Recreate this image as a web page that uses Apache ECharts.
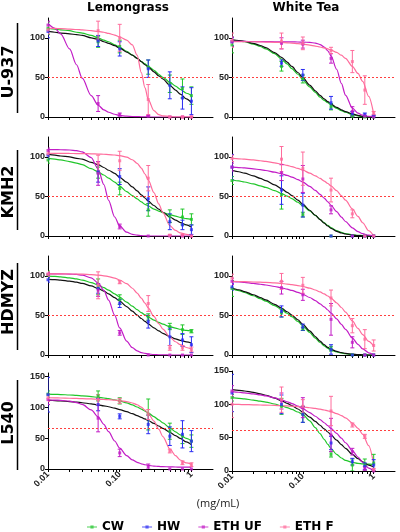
<!DOCTYPE html>
<html>
<head>
<meta charset="utf-8">
<script src="https://cdn.jsdelivr.net/npm/echarts@6/dist/echarts.min.js"></script>
<style>
html, body { margin: 0; padding: 0; background: #fff; }
#chart { width: 400px; height: 532px; }
</style>
</head>
<body>
<div id="chart"></div>
<script>
// concentrations tested (mg/mL) and x positions used to trace the fitted curves
const conc = [0.01, 0.05, 0.1, 0.25, 0.5, 0.75, 1];
const fitX = [0.01, 0.0125, 0.015, 0.02, 0.025, 0.03, 0.04, 0.05, 0.06, 0.07, 0.085, 0.1, 0.125,
	0.15, 0.175, 0.2, 0.225, 0.25, 0.3, 0.35, 0.4, 0.5, 0.6, 0.7, 0.85, 1];
const xTicks = [0.01, 0.02, 0.03, 0.04, 0.05, 0.06, 0.07, 0.08, 0.09, 0.1,
	0.2, 0.3, 0.4, 0.5, 0.6, 0.7, 0.8, 0.9, 1];
const xLabels = [0.01, 0.1, 1];

const seriesNames = ['CW', 'HW', 'ETH UF', 'ETH F'];
const cellLines = ['U-937', 'KMH2', 'HDMYZ', 'L540'];
const extracts = ['Lemongrass', 'White Tea'];

// rows: CW, HW, ETH UF, ETH F
const u937LgMean = [[112, 95, 89, 63, 42, 36, 27], [108, 96, 86, 61, 40, 24, 20], [116, 17, 3, 1, 0, 0, 0], [110, 109, 100, 22, 0, 0, 0]];
const u937LgErr = [[8, 7, 8, 9, 11, 12, 11], [8, 7, 9, 11, 17, 14, 17], [5, 10, 2, 1, 0, 0, 0], [5, 12, 17, 19, 1, 1, 1]];
const u937LgFit = [
	[112, 111, 110, 109, 107, 106, 103, 100, 97, 95, 91, 88, 83, 78, 74, 70, 67, 64, 59, 54, 50, 44, 39, 35, 30, 27],
	[108, 107, 106, 105, 104, 103, 100, 98, 95, 93, 90, 87, 82, 78, 74, 70, 66, 63, 57, 52, 48, 40, 34, 29, 23, 18],
	[118, 112, 105, 86, 66, 49, 27, 15, 9, 6, 3.5, 2, 1, 0.6, 0.4, 0.3, 0.2, 0, 0, 0, 0, 0, 0, 0, 0, 0],
	[112, 112, 111.5, 111, 110.5, 110, 109, 108, 107, 105.5, 103.5, 101, 97, 91, 78, 56, 37, 22, 8, 3, 1.5, 0.5, 0, 0, 0, 0]];

const u937WtMean = [[91, 64, 48, 13, 1, 0, 0], [95, 68, 53, 18, 4, 3, 1], [95, 93, 92, 74, 7, 1, 0], [97, 96, 93, 84, 70, 34, 5]];
const u937WtErr = [[10, 6, 5, 4, 1, 0, 0], [5, 4, 7, 8, 3, 2, 1], [6, 7, 5, 6, 6, 1, 0], [9, 10, 8, 4, 14, 18, 2]];
const u937WtFit = [
	[97, 96, 95, 92, 89, 86, 80, 73, 67, 61, 54, 47, 38, 31, 25, 21, 18, 15, 11, 8, 6, 3, 1.3, 0.3, 0, 0],
	[97.5, 96.6, 95.5, 93, 90.3, 87.5, 81.4, 75.3, 69.3, 63.8, 56.2, 49.6, 40.3, 33.1, 27.4, 22.9, 19.4, 16.4, 12.2, 9.1, 6.9, 3.9, 2, 0.9, 0, 0],
	[95.5, 95.5, 95.4, 95.3, 95.2, 95.1, 95, 95, 94.9, 94.8, 94.7, 94.5, 94.2, 93.3, 91.5, 88.3, 83.6, 77.1, 60.3, 42.4, 27.7, 11.3, 4.9, 2.3, 0.9, 0.4],
	[95, 95, 95, 95, 94.8, 94.6, 94.3, 94, 93.6, 93.2, 92.6, 92, 90.8, 89.6, 88.4, 87.2, 86, 84.6, 81.5, 78, 74, 64, 55, 45, 26, 4]];

const kmh2LgMean = [[96, 80, 60, 33, 25, 24, 21], [102, 81, 75, 47, 18, 14, 8], [108, 79, 12, 0, 0, 0, 0], [104, 92, 95, 73, 1, 1, 0]];
const kmh2LgErr = [[4, 7, 8, 8, 8, 10, 7], [5, 13, 10, 15, 10, 6, 6], [3, 15, 3, 0, 0, 0, 0], [3, 10, 12, 16, 1, 1, 0]];
const kmh2LgFit = [
	[98, 97, 96, 94, 92, 90, 85, 81, 77, 73, 68, 63, 56, 51, 47, 43, 40, 38, 34, 31.5, 29.5, 27, 25, 23.5, 22, 21],
	[103, 102, 101, 100, 98, 97, 93, 90, 86.5, 83, 79, 74, 68, 62, 57, 52, 48, 44, 38.5, 34, 30, 24, 20, 17, 14, 11],
	[109, 109, 108.9, 108.6, 107.8, 106.2, 99, 84.6, 65, 45, 24, 12.7, 4.8, 2.1, 1, 0.4, 0.2, 0, 0, 0, 0, 0, 0, 0, 0, 0],
	[104.5, 104.4, 104.3, 104.2, 104.1, 104, 103.8, 103.5, 103.2, 102.8, 102.3, 101.5, 99.6, 96.3, 91.8, 85.8, 78.3, 70.9, 54.8, 40.6, 29.6, 13, 7, 4, 2, 1]];

const kmh2WtMean = [[70, 52, 27, 0, 0, 0, 0], [87, 58, 39, 0, 0, 0, 0], [87, 80, 72, 33, 0, 0, 0], [98, 97, 85, 58, 28, 0, 0]];
const kmh2WtErr = [[5, 18, 3, 0, 0, 0, 0], [16, 18, 15, 0, 0, 0, 0], [5, 10, 17, 5, 0, 0, 0], [4, 16, 21, 15, 5, 0, 0]];
const kmh2WtFit = [
	[71, 69.5, 68.2, 65.7, 63.4, 61.3, 57.3, 53.6, 50.3, 47.2, 42.6, 38.3, 31.8, 26, 21, 16.8, 13.3, 10.6, 6.8, 4.6, 3, 1.6, 0.9, 0.5, 0.2, 0],
	[83, 81.1, 79.3, 75.9, 72.8, 70, 64.6, 59.7, 55.2, 51, 45.3, 40.1, 32.5, 26.2, 20.8, 16.3, 12.6, 9.7, 5.9, 3.8, 2.5, 1.2, 0.6, 0.3, 0.1, 0],
	[87, 86.4, 85.9, 84.8, 83.7, 82.7, 80.6, 78.6, 76.5, 74.4, 71.2, 68, 62.7, 57.6, 52.6, 47.8, 43.2, 38.8, 30.7, 23.9, 18.3, 10.3, 5.6, 2.9, 1, 0.2],
	[98, 97.5, 97, 96, 95, 94.1, 92.4, 90.7, 89.1, 87.6, 85.3, 83.1, 79.5, 76, 72.7, 69.4, 66.3, 63.2, 57.3, 51, 45.2, 34.2, 24.7, 16.7, 6.6, 0]];

const hdmyzLgMean = [[101, 86, 70, 48, 36, 32, 30], [95, 84, 65, 42, 23, 19, 13], [102, 82, 28, 0, 0, 0, 0], [102, 88, 92, 65, 9, 9, 7]];
const hdmyzLgErr = [[5, 10, 6, 4, 4, 6, 2], [3, 6, 5, 8, 11, 8, 10], [2, 8, 3, 0, 0, 0, 0], [3, 17, 2, 10, 3, 3, 3]];
const hdmyzLgFit = [
	[99.7, 99.2, 98.7, 97.4, 96.1, 94.6, 91.5, 88.3, 85, 81.8, 77.2, 73, 66.7, 61.6, 57.2, 53.6, 50.6, 48, 44, 41.1, 38.9, 35.8, 33.9, 32.5, 31.1, 30.3],
	[95.6, 95.1, 94.6, 93.3, 91.9, 90.4, 87.2, 84, 80.6, 77.3, 72.5, 68, 61.2, 55.4, 50.4, 46.1, 42.4, 39.2, 34.2, 30.4, 27.4, 23.2, 20.4, 18.5, 16.5, 15.2],
	[102.5, 102.4, 102.4, 102.2, 101.7, 100.8, 97.5, 91.1, 81.5, 69.3, 50.3, 34.2, 17.4, 9.2, 5.2, 3.1, 2, 1.3, 0.6, 0.3, 0.2, 0, 0, 0, 0, 0],
	[102.5, 102.5, 102.4, 102.3, 102.2, 102, 101.5, 100.9, 100, 99, 97.1, 94.7, 90, 84.3, 78.2, 71.8, 65.5, 59.5, 48.7, 39.7, 32.7, 22.8, 16.7, 13, 9.5, 7.5]];

const hdmyzWtMean = [[84, 53, 33, 8, 0, 0, 0], [86, 55, 35, 7, 0, 0, 0], [93, 85, 76, 45, 16, 0, 0], [97, 93, 88, 72, 37, 20, 12]];
const hdmyzWtErr = [[10, 5, 2, 3, 0, 0, 0], [4, 7, 4, 6, 0, 0, 0], [4, 8, 7, 20, 7, 0, 0], [5, 10, 10, 10, 9, 12, 7]];
const hdmyzWtFit = [
	[84, 81.3, 78.9, 74.8, 71.2, 68, 62.3, 57.3, 52.7, 48.4, 42.4, 36.7, 28.4, 21.4, 15.8, 11.6, 8.4, 6.2, 3.8, 2.5, 1.6, 0.8, 0.4, 0.2, 0, 0],
	[85, 82.4, 80.1, 76.1, 72.6, 69.5, 64, 59.1, 54.6, 50.4, 44.5, 38.8, 30.5, 23.3, 17.5, 13, 9.6, 7.2, 4.5, 3, 2, 1, 0.5, 0.2, 0, 0],
	[93, 92.3, 91.7, 90.4, 89.3, 88.4, 86.5, 84.8, 83.1, 81.5, 79.1, 76.7, 72.6, 68.6, 64.6, 60.7, 56.8, 53, 45.7, 38.7, 32.3, 21.4, 13.5, 7.8, 2.8, 0.3],
	[93, 92.8, 92.6, 92.2, 91.9, 91.6, 91, 90.3, 89.6, 88.9, 87.7, 86.5, 84.4, 82.1, 79.7, 77.1, 74.5, 71.7, 65.9, 60, 54.2, 43, 33.5, 25.7, 17.3, 11.3]];

const l540LgMean = [[121, 118, 110, 88, 61, 53, 45], [120, 104, 85, 72, 53, 56, 45], [112, 82, 26, 4, 0, 0, 0], [115, 112, 110, 88, 29, 10, 7]];
const l540LgErr = [[5, 8, 5, 25, 13, 12, 10], [28, 10, 4, 15, 15, 22, 17], [8, 22, 6, 4, 0, 0, 0], [6, 8, 4, 8, 3, 3, 3]];
const l540LgFit = [
	[121, 120.6, 120.2, 119.5, 118.8, 118.2, 116.9, 115.7, 114.6, 113.5, 111.8, 110, 106.8, 103.5, 100.1, 96.8, 93.6, 90.5, 84.6, 79.2, 74.4, 66.3, 60, 55, 49.5, 45.4],
	[111, 110.4, 109.9, 108.9, 107.9, 107, 105.3, 103.6, 102, 100.5, 98.2, 96, 92.5, 89.3, 86.3, 83.4, 80.8, 78.3, 73.6, 69.4, 65.7, 59.3, 54, 49.4, 43.7, 38.9],
	[111.6, 111.3, 110.9, 109.5, 107.2, 104.2, 95.4, 84.3, 72.1, 60.2, 45.2, 33.7, 21.6, 14.8, 10.8, 8.4, 6.9, 5.9, 4.7, 4.1, 3.8, 3.4, 3.2, 3.1, 3, 3],
	[115, 114.8, 114.6, 114.2, 113.9, 113.6, 113.1, 112.6, 112.2, 111.8, 111.2, 110.4, 108.8, 106.6, 103.7, 99.8, 95.2, 89.6, 77.3, 64.3, 52.4, 32.5, 21.5, 14.5, 9.8, 7.5]];

const l540WtMean = [[110, 97, 85, 25, 9, 9, 12], [117, 100, 85, 42, 14, 7, 9], [120, 105, 95, 54, 29, 4, 0], [100, 107, 97, 90, 69, 52, 2]];
const l540WtErr = [[5, 12, 12, 4, 9, 9, 13], [28, 14, 12, 10, 5, 5, 8], [8, 12, 15, 25, 5, 3, 0], [20, 19, 10, 22, 3, 3, 2]];
const l540WtFit = [
	[110, 109, 108.1, 106.4, 104.8, 103.4, 100.5, 97.6, 95, 92.4, 88.5, 84.5, 75.3, 65, 56, 47.5, 40, 33.5, 25, 19.5, 16, 13, 11.5, 10.8, 10.2, 10],
	[122, 121, 120, 117.9, 115.8, 113.6, 109.4, 105.3, 101.5, 98, 93, 88.2, 80.9, 74.4, 68.6, 63.3, 58.5, 54.1, 46.3, 39.6, 33.9, 25, 18.5, 13.7, 8.8, 6],
	[119, 118.1, 117.2, 115.6, 114.1, 112.6, 109.6, 106.7, 103.9, 101.2, 97.3, 93.5, 87.6, 82.1, 77.1, 72.4, 68, 63.9, 56.4, 49.2, 42.4, 30.6, 21, 13.1, 4.3, 0],
	[100, 99.8, 99.6, 99.3, 99, 98.8, 98.4, 98, 97.6, 97.2, 96.6, 96, 94.9, 93.8, 92.7, 91.5, 90.3, 89, 86.2, 83.2, 79.8, 72, 64, 55, 38, 10]];

// y axis top, y ticks and the dashed reference line per panel
const yMaxes = [125, 125, 125, 125, 125, 125, 155, 150];
const cutLines = [50, 50, 50, 50, 50, 50, 65, 61];
const yTicksTop = [0, 50, 100];
const yTicksL540 = [0, 50, 100, 150];

const panels = [
	[u937LgMean, u937LgErr, u937LgFit], [u937WtMean, u937WtErr, u937WtFit],
	[kmh2LgMean, kmh2LgErr, kmh2LgFit], [kmh2WtMean, kmh2WtErr, kmh2WtFit],
	[hdmyzLgMean, hdmyzLgErr, hdmyzLgFit], [hdmyzWtMean, hdmyzWtErr, hdmyzWtFit],
	[l540LgMean, l540LgErr, l540LgFit], [l540WtMean, l540WtErr, l540WtFit]
];

const pointColors = ['#20c62a', '#2a2cf2', '#c21cc6', '#ff6c9c'];
const curveColors = ['#20c62a', '#111111', '#c21cc6', '#ff6c9c'];
const legendIcon = 'path://M0,4.4H10V5.6H0Z M3.4,3.4H6.6V6.6H3.4Z';

// layout of the 4x2 grid
const colLeft = [48, 232];
const colWidth = [165, 163];
const rowTop = [[18, 18], [137, 137], [256, 256], [373, 371]];
const rowHeight = [[99, 99], [99, 99], [99, 99], [96, 100]];

const chart = echarts.init(document.getElementById('chart'), null, {renderer: 'canvas'});

const grids = [], xAxes = [], yAxes = [];
const scatterSeries = [], errSeries = [], lineSeries = [];

const fmtX = v => Math.abs(v - 1) < 1e-6 ? '1' : (Math.abs(v - 0.1) < 1e-6 ? '0.10' : '0.01');

panels.forEach((p, i) => {
	const r = Math.floor(i / 2), c = i % 2;
	const [mean, err, fit] = p;
	grids.push({left: colLeft[c], width: colWidth[c], top: rowTop[r][c], height: rowHeight[r][c]});
	xAxes.push({
		type: 'log', logBase: 10, gridIndex: i, min: 0.01, max: 2,
		axisLine: {show: true, lineStyle: {color: '#000', width: 1}},
		axisTick: {show: true, customValues: xTicks, length: 3, lineStyle: {color: '#000'}},
		axisLabel: {
			show: r === 3, customValues: xLabels, formatter: fmtX, rotate: 45,
			fontSize: 9, fontWeight: 'bold', fontFamily: 'Liberation Sans', color: '#222', margin: 4
		},
		splitLine: {show: false}, minorTick: {show: false}
	});
	const yt = r === 3 ? yTicksL540 : yTicksTop;
	yAxes.push({
		type: 'value', gridIndex: i, min: 0, max: yMaxes[i],
		axisLine: {show: true, lineStyle: {color: '#000', width: 1}},
		axisTick: {show: true, customValues: yt, length: 3, lineStyle: {color: '#000'}},
		axisLabel: {customValues: yt, fontSize: 9, fontWeight: 'bold', fontFamily: 'Liberation Sans', color: '#222', margin: 3},
		splitLine: {show: false}
	});

	for (let k = 0; k < 4; k++) {
		scatterSeries.push({
			type: 'scatter', name: seriesNames[k], xAxisIndex: i, yAxisIndex: i,
			data: conc.map((x, j) => [x, mean[k][j]]),
			symbol: 'rect', symbolSize: 3, itemStyle: {color: pointColors[k]},
			silent: true, z: 5
		});
		errSeries.push({
			type: 'custom', xAxisIndex: i, yAxisIndex: i, silent: true, z: 4, clip: true,
			data: conc.map((x, j) => [x, mean[k][j], err[k][j]]),
			encode: {x: 0, y: 1},
			renderItem: (params, api) => {
				const x = api.value(0), m = api.value(1), e = api.value(2);
				if (!e) return null;
				const hi = api.coord([x, m + e]);
				const lo = api.coord([x, Math.max(0, m - e)]);
				const st = {stroke: pointColors[k], lineWidth: 1};
				return {type: 'group', children: [
					{type: 'line', shape: {x1: hi[0], y1: hi[1], x2: lo[0], y2: lo[1]}, style: st},
					{type: 'line', shape: {x1: hi[0] - 2, y1: hi[1], x2: hi[0] + 2, y2: hi[1]}, style: st},
					{type: 'line', shape: {x1: lo[0] - 2, y1: lo[1], x2: lo[0] + 2, y2: lo[1]}, style: st}
				]};
			}
		});
		const ls = {
			type: 'line', name: seriesNames[k], xAxisIndex: i, yAxisIndex: i,
			data: fitX.map((x, j) => [x, fit[k][j]]),
			smooth: 0.3, smoothMonotone: 'x', showSymbol: false, symbol: 'none',
			lineStyle: {color: curveColors[k], width: 1.2}, itemStyle: {color: pointColors[k]},
			silent: true, z: 3
		};
		if (k === 0) {
			ls.markLine = {
				silent: true, symbol: 'none', label: {show: false},
				lineStyle: {color: '#ff3f3f', type: [2, 2], width: 1},
				data: [{yAxis: cutLines[i]}]
			};
		}
		lineSeries.push(ls);
	}
});

const graphics = [];
extracts.forEach((t, c) => {
	graphics.push({type: 'text', x: [128, 306][c], y: 8,
		style: {text: t, font: 'bold 12px "DejaVu Sans"', fill: '#000', align: 'center', verticalAlign: 'middle'}});
});
const labelY = [72, 192, 302, 423];
const barY = [[23, 113], [150, 230], [263, 350], [380, 470]];
cellLines.forEach((t, r) => {
	graphics.push({type: 'text', x: 9, y: labelY[r], rotation: Math.PI / 2,
		style: {text: t, font: 'bold 16px "DejaVu Sans"', fill: '#000', align: 'center', verticalAlign: 'middle'}});
	graphics.push({type: 'line', shape: {x1: 17.5, y1: barY[r][0], x2: 17.5, y2: barY[r][1]},
		style: {stroke: '#000', lineWidth: 1.5}});
});
graphics.push({type: 'text', x: 218, y: 504,
	style: {text: '(mg/mL)', font: '11px "Open Sans"', fill: '#222', align: 'center', verticalAlign: 'middle'}});

chart.setOption({
	animation: false,
	backgroundColor: '#fff',
	grid: grids,
	xAxis: xAxes,
	yAxis: yAxes,
	legend: {
		left: 87, top: 521, padding: 0, itemWidth: 10, itemHeight: 10, itemGap: 18,
		selectedMode: false,
		textStyle: {fontFamily: 'DejaVu Sans', fontWeight: 'bold', fontSize: 12, color: '#000'},
		data: seriesNames.map((n, k) => ({name: n, icon: legendIcon, itemStyle: {color: pointColors[k]}}))
	},
	graphic: graphics,
	series: scatterSeries.concat(errSeries, lineSeries)
});
</script>
</body>
</html>
